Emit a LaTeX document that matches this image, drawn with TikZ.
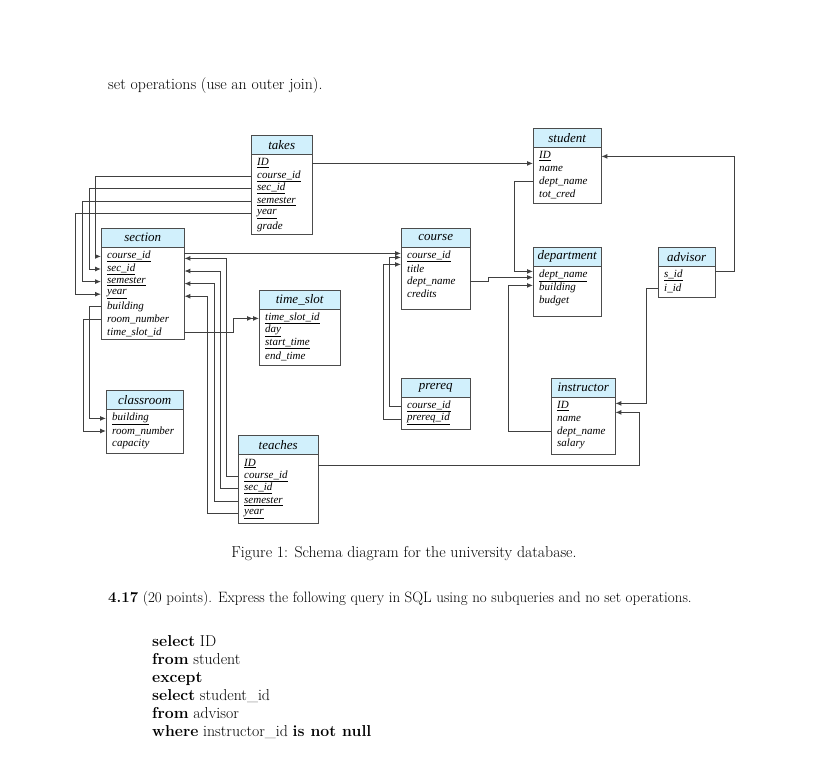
\documentclass[tikz,border=0pt]{standalone}
\usepackage{fontspec}
\newfontfamily\schemafont{Liberation Serif}
\usetikzlibrary{calc,arrows.meta}

\tikzset{
  ttl/.style={draw=black!70, fill=cyan!18, anchor=north west, inner sep=0pt,
    font=\schemafont\itshape\fontsize{13}{13}\selectfont},
  bdy/.style={draw=black!70, anchor=north west, inner sep=0pt},
  row/.style={anchor=west, inner sep=0pt, font=\schemafont\itshape\fontsize{11}{11}\selectfont},
  fk/.style={draw=black!75, line width=1pt, -{Latex[length=6pt,width=5pt]}},
  fk2/.style={draw=black!75, line width=1pt, -{Latex[length=6pt,width=5pt]Latex[length=6pt,width=5pt]}},
  txt/.style={anchor=base west, inner sep=0pt, font=\fontsize{15.8}{19}\selectfont}
}
\newcommand{\key}[1]{\underline{#1}}
% name, title, left x, title top y, width, body height, rows
\newcommand{\relation}[7]{%
  \node[ttl, minimum width=#5pt, minimum height=19pt] (#1) at (#3,#4) {#2};
  \node[bdy, minimum width=#5pt, minimum height=#6pt] (#1-b) at (#1.south west) {};
  \foreach \r [count=\i] in {#7}
    \node[row] (#1-\i) at ($(#1-b.north west)+(6,9+12.6*\i-12.6)$) {\r};
}

\begin{document}
\begin{tikzpicture}[x=1pt,y=-1pt]
  \useasboundingbox (0,0) rectangle (813,766);

  % relations
  \relation{takes}{takes}{251}{135}{61}{80}{\key{ID},\key{course\_id},\key{sec\_id},\key{semester},\key{year},grade}
  \relation{student}{student}{533}{128}{68}{56}{\key{ID},name,dept\_name,tot\_cred}
  \relation{section}{section}{101}{228}{83}{92}{\key{course\_id},\key{sec\_id},\key{semester},\key{year},building,room\_number,time\_slot\_id}
  \relation{course}{course}{401}{228}{69}{62}{\key{course\_id},title,dept\_name,credits}
  \relation{department}{department}{533}{247}{68}{50}{\key{dept\_name},building,budget}
  \relation{advisor}{advisor}{658}{247}{57}{31}{\key{s\_id},i\_id}
  \relation{timeslot}{time\_slot}{259}{290}{81}{56}{\key{time\_slot\_id},\key{day},\key{start\_time},end\_time}
  \relation{classroom}{classroom}{106}{390}{77}{44}{\key{building},room\_number,capacity}
  \relation{prereq}{prereq}{401}{378}{69}{32}{\key{course\_id},\key{prereq\_id}}
  \relation{instructor}{instructor}{551}{378}{64}{57}{\key{ID},name,dept\_name,salary}
  \relation{teaches}{teaches}{238}{435}{80}{69}{\key{ID},\key{course\_id},\key{sec\_id},\key{semester},\key{year}}

  % takes -> student, section
  \draw[fk] (takes-b.east |- takes-1) -- (student-b.west |- takes-1);
  \draw[fk] (takes-b.west |- takes-2) -- ++(-156,0) |- (section-b.west |- section-1);
  \draw[fk] (takes-b.west |- takes-3) -- ++(-162,0) |- (section-b.west |- section-2);
  \draw[fk] (takes-b.west |- takes-4) -- ++(-169,0) |- (section-b.west |- section-3);
  \draw[fk] (takes-b.west |- takes-5) -- ++(-176,0) |- (section-b.west |- section-4);

  % section -> classroom, course, time_slot
  \draw[fk] (section-b.west |- section-5) -- ++(-12,0) |- (classroom-b.west |- classroom-1);
  \draw[fk] (section-b.west |- section-6) -- ++(-18,0) |- (classroom-b.west |- classroom-2);
  \draw[fk] ([yshift=3pt]section-b.east |- section-1) -- ([yshift=3pt]course-b.west |- section-1);
  \draw[fk2] (section-b.east |- section-7) -- ++(49,0) |- (timeslot-b.west |- timeslot-1);

  % teaches -> section, instructor
  \draw[fk] (teaches-b.west |- teaches-2) -- ++(-12,0) |- ([yshift=-2pt]section-b.east |- section-1);
  \draw[fk] (teaches-b.west |- teaches-3) -- ++(-18,0) |- ([yshift=-2pt]section-b.east |- section-2);
  \draw[fk] (teaches-b.west |- teaches-4) -- ++(-24,0) |- ([yshift=-2pt]section-b.east |- section-3);
  \draw[fk] (teaches-b.west |- teaches-5) -- ++(-31,0) |- ([yshift=-2pt]section-b.east |- section-4);
  \draw[fk] ([yshift=-2pt]teaches-b.east |- teaches-1) -- ++(321,0) |- ([yshift=-6pt]instructor-b.east |- instructor-1);

  % prereq -> course
  \draw[fk] (prereq-b.west |- prereq-1) -- ++(-12,0) |- ([yshift=-1pt]course-b.west |- course-1);
  \draw[fk] (prereq-b.west |- prereq-2) -- ++(-18,0) |- ([yshift=-8pt]course-b.west |- course-1);

  % department references
  \draw[fk] (course-b.east |- course-3) -- ++(18,0) |- ([yshift=-2pt]department-b.west |- department-1);
  \draw[fk] (student-b.west |- student-3) -- ++(-19,0) |- ([yshift=4pt]department-b.west |- department-1);
  \draw[fk] (instructor-b.west |- instructor-3) -- ++(-43,0) |- ([yshift=-10pt]department-b.west |- department-1);

  % advisor -> student, instructor
  \draw[fk] ([yshift=4pt]advisor-b.east |- advisor-1) -- ++(19,0) |- (student-b.east |- student-1);
  \draw[fk] (advisor-b.west |- advisor-2) -- ++(-12,0) |- ([yshift=3pt]instructor-b.east |- instructor-1);

  % page text
  \node[txt] (intro) at (108,89) {set operations (use an outer join).};
  \node[txt, anchor=base] (caption) at (404,557) {Figure 1: Schema diagram for the university database.};
  \node[txt, font=\fontsize{15}{18}\selectfont] (exercise) at (108,602) {\textbf{4.17} (20 points). Express the following query in SQL using no subqueries and no set operations.};
  \node[txt] (q1) at (152,646) {\textbf{select} ID};
  \node[txt] (q2) at (152,664) {\textbf{from} student};
  \node[txt] (q3) at (152,682) {\textbf{except}};
  \node[txt] (q4) at (152,700) {\textbf{select} student\_id};
  \node[txt] (q5) at (152,718) {\textbf{from} advisor};
  \node[txt] (q6) at (152,736) {\textbf{where} instructor\_id \textbf{is not null}};
\end{tikzpicture}
\end{document}
